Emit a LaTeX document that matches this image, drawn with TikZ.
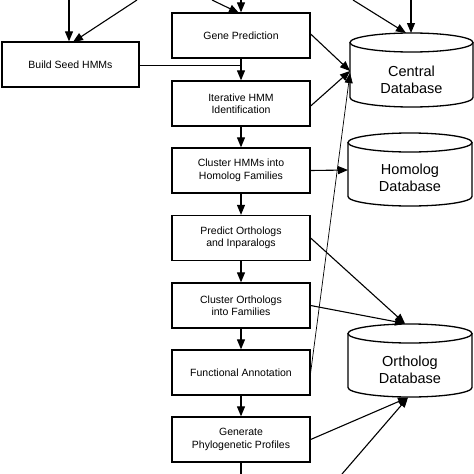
\documentclass[tikz,border=0pt]{standalone}
\usepackage{fontspec}
\setmainfont{Liberation Sans}
\usetikzlibrary{arrows.meta}
\begin{document}
\begin{tikzpicture}[x=1pt,y=-1pt,
  box/.style={draw,line width=1.3pt,minimum width=138pt,minimum height=45pt,align=center,inner sep=0pt,
    font=\fontsize{10.5}{12.5}\selectfont},
  db/.style={draw,line width=1.3pt},
  dbtext/.style={align=center,inner sep=0pt,font=\fontsize{14.5}{16.7}\selectfont},
  arr/.style={line width=1.1pt,-{Triangle[length=10pt,width=8pt]}},
  thin/.style={line width=0.7pt,-{Triangle[length=10pt,width=8pt]}},
  ln/.style={line width=1.1pt},
  thinln/.style={line width=0.8pt}]
\useasboundingbox (0,0) rectangle (474,474);
\fill[white] (0,0) rectangle (474,474);

% main column
\node[box] (gene)  at (241,35.5)  {Gene Prediction};
\node[box] (iter)  at (241,103.5) {Iterative HMM\\Identification};
\node[box] (chmm)  at (241,170.5) {Cluster HMMs into\\Homolog Families};
\node[box] (pred)  at (241,238)   {Predict Orthologs\\and Inparalogs};
\node[box] (corth) at (241,305.5) {Cluster Orthologs\\into Families};
\node[box] (func)  at (241,372.5) {Functional Annotation};
\node[box] (phylo) at (241,439.5) {Generate\\Phylogenetic Profiles};
\node[box,minimum width=137pt] (seed) at (70.5,64.5) {Build Seed HMMs};

% databases
\draw[db] (350,42.5) -- (350,97.5) arc[start angle=180,end angle=0,x radius=61.5,y radius=9.5] -- (473,42.5);
\draw[db] (411.5,42.5) ellipse[x radius=61.5,y radius=9.5];
\node[dbtext] (central) at (411.5,80) {Central\\Database};

\draw[db] (348,142.5) -- (348,196.5) arc[start angle=180,end angle=0,x radius=62,y radius=9.5] -- (472,142.5);
\draw[db] (410,142.5) ellipse[x radius=62,y radius=9.5];
\node[dbtext] (homolog) at (410,178) {Homolog\\Database};

\draw[db] (348,333.5) -- (348,387.5) arc[start angle=180,end angle=0,x radius=62,y radius=9.5] -- (472,333.5);
\draw[db] (410,333.5) ellipse[x radius=62,y radius=9.5];
\node[dbtext] (ortholog) at (410,369.5) {Ortholog\\Database};

% connector end points
\coordinate (t1) at (69,0);
\coordinate (t2) at (137,0);
\coordinate (s2) at (73,42);
\coordinate (t3) at (241,0);
\coordinate (t4) at (212,0);
\coordinate (g2) at (239,13);
\coordinate (t5) at (411,0);
\coordinate (t6) at (353,0);
\coordinate (c1) at (411,33);
\coordinate (c2) at (406,33);
\coordinate (cin) at (350,71);
\coordinate (cin2) at (350,73);
\coordinate (hin) at (348,170);
\coordinate (otop) at (405,323.5);
\coordinate (obot) at (408,397.5);
\coordinate (b1) at (342,474);
\coordinate (b2) at (241,474);
\coordinate (j) at (241,65);

% top arrows
\draw[arr] (t1) -- (t1 |- seed.north);
\draw[arr] (t2) -- (s2);
\draw[arr] (t3) -- (gene.north);
\draw[arr] (t4) -- (g2);
\draw[arr] (t5) -- (c1);
\draw[arr] (t6) -- (c2);

% column arrows
\draw[thinln] (seed.east |- j) -- (j);
\draw[arr] (gene.south) -- (iter.north);
\draw[arr] (iter.south) -- (chmm.north);
\draw[arr] (chmm.south) -- (pred.north);
\draw[arr] (pred.south) -- (corth.north);
\draw[arr] (corth.south) -- (func.north);
\draw[arr] (func.south) -- (phylo.north);
\draw[ln] (phylo.south) -- (b2);

% to databases
\draw[arr] ([yshift=1.5pt]gene.east) -- (cin);
\draw[arr] ([yshift=-2.5pt]iter.east) -- (cin);
\draw[thin] (func.east) -- (cin2);
\draw[arr] (chmm.east) -- (hin);
\draw[arr] (pred.east) -- (otop);
\draw[arr] (corth.east) -- (otop);
\draw[arr] (phylo.east) -- (obot);
\draw[arr] (b1) -- (obot);
\end{tikzpicture}
\end{document}
